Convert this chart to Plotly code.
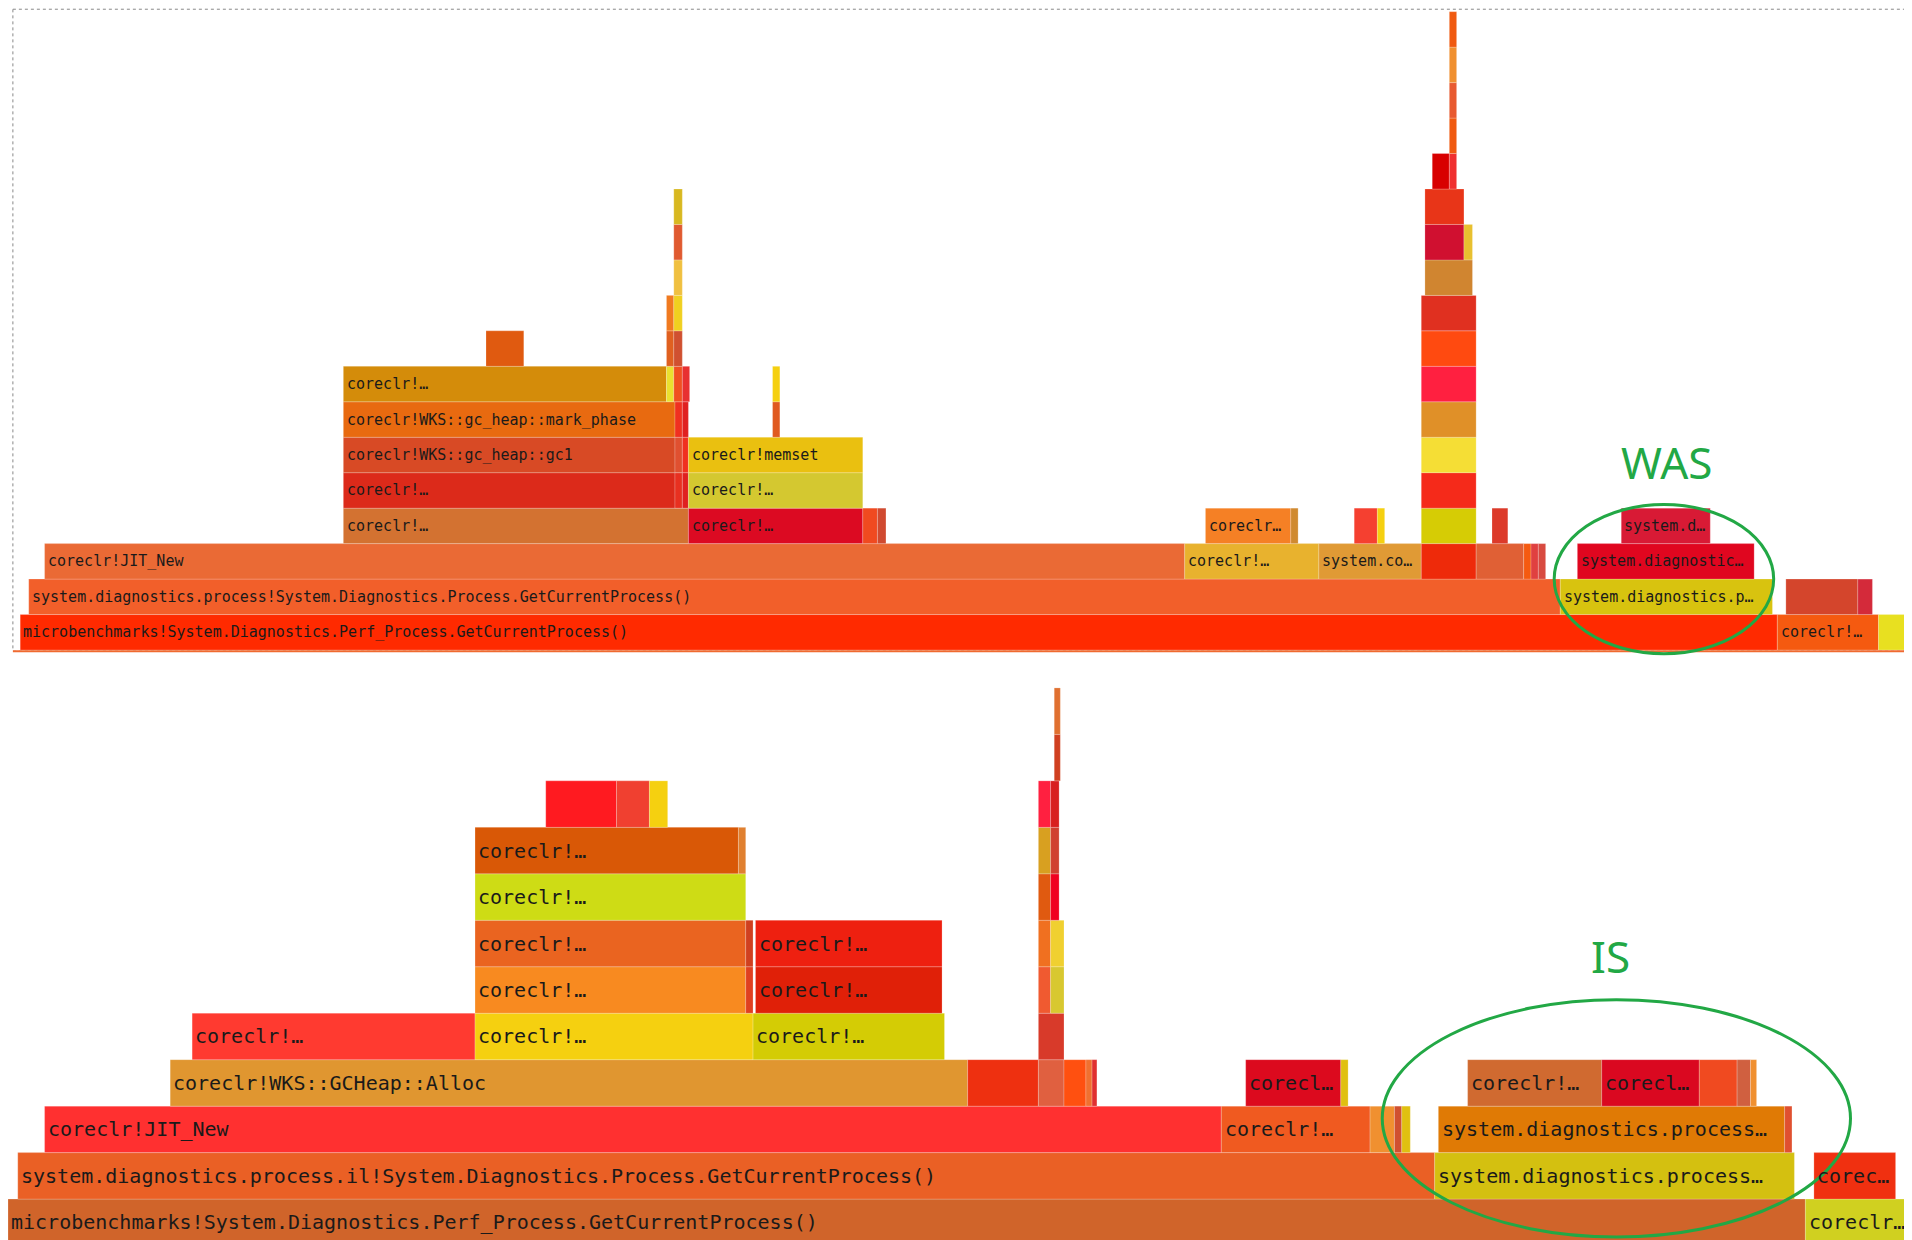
import plotly.graph_objects as go

# ---- WAS (top flame graph) : start, end, level, colour, label ----
was_start = [10, 1451, 1534,
             17, 1273, 1458, 1517,
             30, 965, 1075, 1159, 1204, 1243, 1249, 1255, 1287,
             275, 558, 701, 713, 982, 1052, 1104, 1123, 1159, 1217, 1323,
             275, 547, 553, 558, 1159,
             275, 547, 553, 558, 1159,
             275, 547, 553, 627, 1159,
             275, 540, 546, 553, 627, 1159,
             392, 540, 546, 1159,
             540, 546, 1159,
             546, 1162,
             546, 1162, 1194,
             546, 1162,
             1168, 1182,
             1182, 1182, 1182, 1182]
was_end = [1451, 1534, 1561,
           1273, 1447, 1517, 1529,
           965, 1075, 1159, 1204, 1243, 1249, 1255, 1261, 1432,
           558, 701, 713, 720, 1052, 1058, 1123, 1129, 1204, 1230, 1396,
           547, 553, 558, 701, 1204,
           547, 553, 558, 701, 1204,
           547, 553, 558, 633, 1204,
           540, 546, 553, 559, 633, 1204,
           423, 546, 553, 1204,
           546, 553, 1204,
           553, 1201,
           553, 1194, 1201,
           553, 1194,
           1182, 1188,
           1188, 1188, 1188, 1188]
was_level = [0, 0, 0,
             1, 1, 1, 1,
             2, 2, 2, 2, 2, 2, 2, 2, 2,
             3, 3, 3, 3, 3, 3, 3, 3, 3, 3, 3,
             4, 4, 4, 4, 4,
             5, 5, 5, 5, 5,
             6, 6, 6, 6, 6,
             7, 7, 7, 7, 7, 7,
             8, 8, 8, 8,
             9, 9, 9,
             10, 10,
             11, 11, 11,
             12, 12,
             13, 13,
             14, 15, 16, 17]
was_color = ["#FF2A00", "#F55A10", "#E8E020",
             "#F25F2A", "#D8C30F", "#D4452C", "#D42A3A",
             "#EA6A35", "#E8B22E", "#E09A35", "#EE2A0A", "#E06035", "#F55A10", "#E04040", "#D84A40", "#E0061F",
             "#D37231", "#DC0A22", "#F04A20", "#D04A30", "#F58025", "#D08A30", "#F54030", "#F5D010", "#D6CC05", "#DC3A2A", "#D81A35",
             "#DC2A1A", "#E83020", "#E02020", "#D4C830", "#F52A1A",
             "#D84A25", "#E05030", "#F03020", "#EAC010", "#F5DE35",
             "#E86A10", "#F03020", "#E02020", "#E05A20", "#E09028",
             "#D48C0A", "#EAE030", "#F05020", "#E83030", "#F5D010", "#FF2040",
             "#E05A10", "#E06020", "#D05030", "#FF4A10",
             "#F07A20", "#F0D020", "#E03020",
             "#F0C040", "#D08530",
             "#E05A30", "#D01030", "#E8C030",
             "#D8B820", "#E83518",
             "#D80000", "#F03030",
             "#F05A10", "#E85A30", "#F09030", "#F05A10"]
was_label = ["microbenchmarks!System.Diagnostics.Perf_Process.GetCurrentProcess()", "coreclr!…", "",
             "system.diagnostics.process!System.Diagnostics.Process.GetCurrentProcess()", "system.diagnostics.p…", "", "",
             "coreclr!JIT_New", "coreclr!…", "system.co…", "", "", "", "", "", "system.diagnostic…",
             "coreclr!…", "coreclr!…", "", "", "coreclr…", "", "", "", "", "", "system.d…",
             "coreclr!…", "", "", "coreclr!…", "",
             "coreclr!WKS::gc_heap::gc1", "", "", "coreclr!memset", "",
             "coreclr!WKS::gc_heap::mark_phase", "", "", "", "",
             "coreclr!…", "", "", "", "", "",
             "", "", "", "",
             "", "", "",
             "", "",
             "", "", "",
             "", "",
             "", "",
             "", "", "", ""]

# ---- IS (bottom flame graph) ----
is_start = [0, 1474, 1558,
            8, 1170, 1481, 1563,
            30, 995, 1117, 1137, 1143, 1173, 1457, 1563,
            133, 787, 845, 866, 884, 889, 1015, 1093, 1197, 1307, 1387, 1418, 1429, 1563,
            151, 383, 611, 845, 1563,
            383, 605, 613, 845, 855, 1563,
            383, 605, 613, 845, 855, 1563,
            383, 845, 855, 1563,
            383, 599, 845, 855, 1563,
            441, 499, 526, 845, 855, 1563,
            858, 1563,
            858, 1563]
is_end = [1474, 1558, 1568,
          1170, 1465, 1548, 1568,
          995, 1117, 1137, 1143, 1150, 1457, 1463, 1568,
          787, 845, 866, 884, 889, 893, 1093, 1099, 1307, 1387, 1418, 1429, 1434, 1568,
          383, 611, 768, 866, 1568,
          605, 611, 766, 855, 866, 1568,
          605, 611, 766, 855, 866, 1568,
          605, 855, 862, 1568,
          599, 605, 855, 862, 1568,
          499, 526, 541, 855, 862, 1568,
          863, 1568,
          863, 1568]
is_level = [0, 0, 0,
            1, 1, 1, 1,
            2, 2, 2, 2, 2, 2, 2, 2,
            3, 3, 3, 3, 3, 3, 3, 3, 3, 3, 3, 3, 3, 3,
            4, 4, 4, 4, 4,
            5, 5, 5, 5, 5, 5,
            6, 6, 6, 6, 6, 6,
            7, 7, 7, 7,
            8, 8, 8, 8, 8,
            9, 9, 9, 9, 9, 9,
            10, 10,
            11, 11]
is_color = ["#D0642A", "#D0D020", "#E04020",
            "#EA6025", "#D4C010", "#F03010", "#E05030",
            "#FF3030", "#F05A20", "#F09030", "#D05030", "#E0C010", "#E07A05", "#E05030", "#D04020",
            "#E09630", "#EE3010", "#E06040", "#FF5010", "#F07030", "#E03030", "#DC0A1E", "#E0C010", "#D06A30", "#DA0820", "#F04A20", "#D06040", "#F09030", "#E06030",
            "#FF3A30", "#F5D010", "#D4CC05", "#D83A2A", "#E0C010",
            "#F88A20", "#E04020", "#E02008", "#F05A30", "#D8C830", "#E02020",
            "#EA6420", "#D04020", "#EE2010", "#F07020", "#F0D030", "#D8C830",
            "#CEDC15", "#E05A10", "#F00020", "#E08030",
            "#D95806", "#E08030", "#D8A020", "#D04030", "#D0C020",
            "#FF1A20", "#F04030", "#F5D010", "#FF2040", "#D82020", "#E06030",
            "#D04020", "#F05A10",
            "#E07030", "#E08030"]
is_label = ["microbenchmarks!System.Diagnostics.Perf_Process.GetCurrentProcess()", "coreclr…", "",
            "system.diagnostics.process.il!System.Diagnostics.Process.GetCurrentProcess()", "system.diagnostics.process…", "corec…", "",
            "coreclr!JIT_New", "coreclr!…", "", "", "", "system.diagnostics.process…", "", "",
            "coreclr!WKS::GCHeap::Alloc", "", "", "", "", "", "corecl…", "", "coreclr!…", "corecl…", "", "", "", "",
            "coreclr!…", "coreclr!…", "coreclr!…", "", "",
            "coreclr!…", "", "coreclr!…", "", "", "",
            "coreclr!…", "", "coreclr!…", "", "", "",
            "coreclr!…", "", "", "",
            "coreclr!…", "", "", "", "",
            "", "", "", "", "", "",
            "", "",
            "", ""]

fig = go.Figure()


def add_flame(starts, ends, levels, colors, labels, baseline, rowh, fsize):
    ys = [baseline - (lv + 0.5) * rowh for lv in levels]
    fig.add_trace(go.Bar(
        orientation="h", base=starts, x=[e - s for s, e in zip(starts, ends)], y=ys,
        width=rowh, marker=dict(color=colors, line=dict(color="rgba(255,255,255,0.35)", width=0.6)),
        showlegend=False, hoverinfo="skip"))
    for s, y, t in zip(starts, ys, labels):
        if t:
            fig.add_annotation(x=s + 1, y=y, text=t, xanchor="left", yanchor="middle", showarrow=False,
                               font=dict(family="DejaVu Sans Mono", size=fsize, color="#1a1a1a"))


add_flame(was_start, was_end, was_level, was_color, was_label, 525, 29, 15)
add_flame(is_start, is_end, is_level, is_color, is_label, 1012, 38, 20)

# frame of the top view
fig.add_shape(type="rect", x0=4, x1=1570, y0=1, y1=526, line=dict(color="#888", width=1, dash="dot"))
fig.add_shape(type="line", x0=4, x1=1568, y0=526, y1=526, line=dict(color="#F06A30", width=2))

# green notes
green = "#22A845"
fig.add_shape(type="circle", x0=1268, x1=1448, y0=406, y1=528, line=dict(color=green, width=3))
fig.add_shape(type="circle", x0=1127, x1=1511, y0=811, y1=1005, line=dict(color=green, width=3))
fig.add_annotation(x=1360, y=371, text="WAS", showarrow=False,
                   font=dict(family="Noto Sans", size=44, color=green))
fig.add_annotation(x=1314, y=775, text="IS", showarrow=False,
                   font=dict(family="Noto Sans", size=44, color=green))

fig.update_layout(
    width=1912, height=1240, margin=dict(l=0, r=0, t=0, b=0),
    plot_bgcolor="white", paper_bgcolor="white", barmode="overlay",
    xaxis=dict(range=[0, 1568], visible=False, fixedrange=True),
    yaxis=dict(range=[1014, 0], visible=False, fixedrange=True),
)
fig.write_html("out.html")
